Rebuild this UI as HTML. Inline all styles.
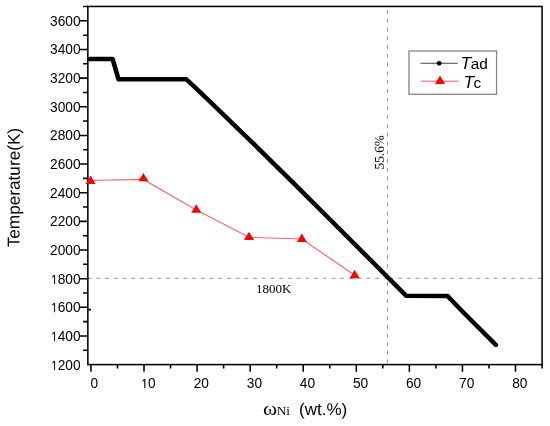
<!DOCTYPE html>
<html><head><meta charset="utf-8"><title>Temperature vs Ni</title>
<style>html,body{margin:0;padding:0;background:#fff;width:550px;height:426px;overflow:hidden}svg{display:block}</style>
</head><body>
<svg width="550" height="426" viewBox="0 0 550 426"><rect x="0" y="0" width="550" height="426" fill="#fff"/>
<line x1="87.71" y1="278.3" x2="387.5" y2="278.3" stroke="#969696" stroke-width="1.0" stroke-dasharray="3.9 4.806"/>
<line x1="389.34" y1="278.3" x2="542.1" y2="278.3" stroke="#969696" stroke-width="1.0" stroke-dasharray="3.9 4.806"/>
<line x1="387.45" y1="10.15" x2="387.45" y2="272.5" stroke="#969696" stroke-width="1.0" stroke-dasharray="3.9 4.852"/>
<line x1="387.45" y1="273.3" x2="387.45" y2="364.6" stroke="#969696" stroke-width="1.0" stroke-dasharray="3.9 4.71"/>
<rect x="87.85" y="6.45" width="454.25" height="358.15" fill="none" stroke="#000" stroke-width="1.55"/>
<path d="M83.05 350.28H87.85 M79.75 335.95H87.85 M83.05 321.63H87.85 M79.75 307.30H87.85 M83.05 292.98H87.85 M79.75 278.66H87.85 M83.05 264.33H87.85 M79.75 250.01H87.85 M83.05 235.68H87.85 M79.75 221.36H87.85 M83.05 207.04H87.85 M79.75 192.71H87.85 M83.05 178.39H87.85 M79.75 164.06H87.85 M83.05 149.74H87.85 M79.75 135.42H87.85 M83.05 121.09H87.85 M79.75 106.77H87.85 M83.05 92.44H87.85 M79.75 78.12H87.85 M83.05 63.80H87.85 M79.75 49.47H87.85 M83.05 35.15H87.85 M79.75 20.82H87.85 M83.05 6.50H87.85 M90.95 364.6V371.80 M117.48 364.6V368.60 M144.02 364.6V371.80 M170.55 364.6V368.60 M197.09 364.6V371.80 M223.62 364.6V368.60 M250.16 364.6V371.80 M276.69 364.6V368.60 M303.23 364.6V371.80 M329.76 364.6V368.60 M356.29 364.6V371.80 M382.83 364.6V368.60 M409.36 364.6V371.80 M435.90 364.6V368.60 M462.43 364.6V371.80 M488.97 364.6V368.60 M515.50 364.6V371.80 M542.04 364.6V368.60 M88.3 309.6H91.0" stroke="#000" stroke-width="1.55" fill="none"/>
<g font-family="Liberation Sans, Arial, sans-serif" font-size="15.0" fill="#000"><text transform="translate(80.6 369.55) scale(0.915 1)" text-anchor="end"><tspan font-family="NanumGothic, Liberation Sans, sans-serif" font-size="13.20" stroke="#000" stroke-width="0.3">1</tspan>200</text><text transform="translate(80.6 340.90) scale(0.915 1)" text-anchor="end"><tspan font-family="NanumGothic, Liberation Sans, sans-serif" font-size="13.20" stroke="#000" stroke-width="0.3">1</tspan>400</text><text transform="translate(80.6 312.25) scale(0.915 1)" text-anchor="end"><tspan font-family="NanumGothic, Liberation Sans, sans-serif" font-size="13.20" stroke="#000" stroke-width="0.3">1</tspan>600</text><text transform="translate(80.6 283.61) scale(0.915 1)" text-anchor="end"><tspan font-family="NanumGothic, Liberation Sans, sans-serif" font-size="13.20" stroke="#000" stroke-width="0.3">1</tspan>800</text><text transform="translate(80.6 254.96) scale(0.915 1)" text-anchor="end">2000</text><text transform="translate(80.6 226.31) scale(0.915 1)" text-anchor="end">2200</text><text transform="translate(80.6 197.66) scale(0.915 1)" text-anchor="end">2400</text><text transform="translate(80.6 169.01) scale(0.915 1)" text-anchor="end">2600</text><text transform="translate(80.6 140.37) scale(0.915 1)" text-anchor="end">2800</text><text transform="translate(80.6 111.72) scale(0.915 1)" text-anchor="end">3000</text><text transform="translate(80.6 83.07) scale(0.915 1)" text-anchor="end">3200</text><text transform="translate(80.6 54.42) scale(0.915 1)" text-anchor="end">3400</text><text transform="translate(80.6 25.77) scale(0.915 1)" text-anchor="end">3600</text><text transform="translate(94.25 387.7) scale(0.915 1)" text-anchor="middle">0</text><text transform="translate(148.27 387.7) scale(0.915 1)" text-anchor="middle"><tspan font-family="NanumGothic, Liberation Sans, sans-serif" font-size="13.20" stroke="#000" stroke-width="0.3">1</tspan>0</text><text transform="translate(201.34 387.7) scale(0.915 1)" text-anchor="middle">20</text><text transform="translate(254.41 387.7) scale(0.915 1)" text-anchor="middle">30</text><text transform="translate(307.48 387.7) scale(0.915 1)" text-anchor="middle">40</text><text transform="translate(360.54 387.7) scale(0.915 1)" text-anchor="middle">50</text><text transform="translate(413.61 387.7) scale(0.915 1)" text-anchor="middle">60</text><text transform="translate(466.68 387.7) scale(0.915 1)" text-anchor="middle">70</text><text transform="translate(519.75 387.7) scale(0.915 1)" text-anchor="middle">80</text></g>
<text transform="translate(19.6 247.3) rotate(-89.95)" font-family="Liberation Sans, Arial, sans-serif" font-size="17.2" fill="#000">Temperature(K)</text>
<text transform="translate(263.0 415.1) scale(1.13 1)" font-family="Liberation Serif, serif" font-size="19" fill="#000">ω</text>
<text x="276.7" y="415.1" font-family="Liberation Serif, serif" font-size="13.3" fill="#000">Ni</text>
<text transform="translate(299.0 415.1) rotate(0.05)" font-family="Liberation Sans, Arial, sans-serif" font-size="17" fill="#000">(wt.%)</text>
<text transform="translate(383.7 169.4) rotate(-89.9) scale(0.985 1)" font-family="Liberation Serif, serif" font-size="13.5" fill="#000">55.6%</text>
<text transform="translate(256.0 292.6) scale(0.985 1)" font-family="Liberation Serif, serif" font-size="13.2" fill="#000">1800K</text>
<path d="M89.9 59.0 L112.6 59.0 L118.5 79.25 L186.4 79.3 L194 86.4 L210 101.6 L250 140.3 L290 179.7 L330 219.5 L370 259.5 L406.25 295.8 L447.4 295.9 L462 311.0 L472.9 322.0 L495.9 344.8" stroke="#000" stroke-width="4.5" fill="none" stroke-linejoin="round" stroke-linecap="round"/>
<path d="M90.57 180.5 L143.4 179.4 L196.25 209.9 L249.0 237.3 L301.84 239.0 L354.68 275.2" stroke="#ff6470" stroke-width="1.15" fill="none"/>
<path d="M90.57 175.60L95.57 184.00L85.57 184.00ZM143.40 172.90L148.40 181.30L138.40 181.30ZM196.25 204.25L201.25 212.65L191.25 212.65ZM249.00 231.65L254.00 240.05L244.00 240.05ZM301.84 233.55L306.84 241.95L296.84 241.95ZM354.68 269.80L359.68 278.20L349.68 278.20Z" fill="#ff0000"/>
<rect x="408.95" y="51.0" width="87.6" height="43.3" fill="#fff" stroke="#858585" stroke-width="1.3"/>
<line x1="420.5" y1="63.3" x2="457.8" y2="63.3" stroke="#444" stroke-width="1.1"/>
<circle cx="439.2" cy="63.3" r="2.4" fill="#000"/>
<line x1="421" y1="81.2" x2="458.8" y2="81.2" stroke="#ff8f8f" stroke-width="1.4"/>
<path d="M440.00 75.50L445.00 83.90L435.00 83.90Z" fill="#ff0000"/>
<text y="69.1" font-family="Liberation Sans, Arial, sans-serif" fill="#000"><tspan x="460.4" font-style="italic" font-size="17.4">T</tspan><tspan x="470.7" font-size="15.4">ad</tspan></text>
<text y="88.3" font-family="Liberation Sans, Arial, sans-serif" fill="#000"><tspan x="463.5" font-style="italic" font-size="17.4">T</tspan><tspan x="473.55" font-size="15.4">c</tspan></text></svg>
</body></html>
